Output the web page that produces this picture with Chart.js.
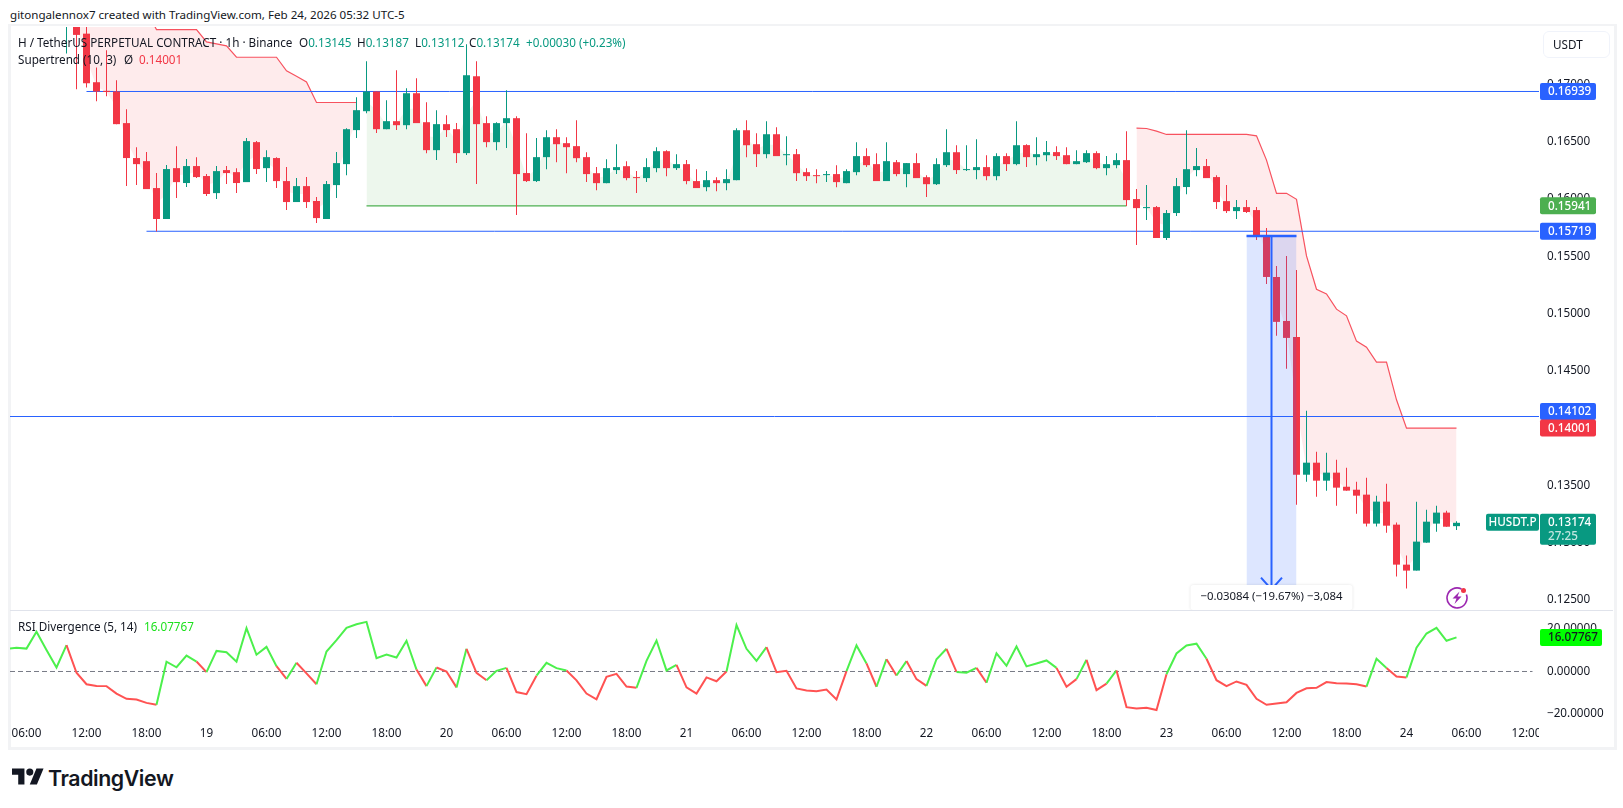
<!DOCTYPE html>
<html>
<head>
<meta charset="utf-8">
<title>HUSDT.P 1h</title>
<script src="https://cdn.jsdelivr.net/npm/chart.js@4/dist/chart.umd.min.js"></script>
<style>
  html, body { margin: 0; padding: 0; background: #fff; width: 1623px; height: 808px; overflow: hidden; }
  body { font-family: "Noto Sans", sans-serif; color: #131722; font-size: 11.7px; }
  #frame { position: absolute; left: 8px; top: 24px; width: 1603px; height: 721px; border: 2px solid #f2f3f5; border-bottom-width: 3px; border-right-width: 3px; border-left-width: 3px; }
  canvas { position: absolute; left: 10px; }
  #priceChart { top: 27px; }
  #rsiChart { top: 610px; }
  #sep { position: absolute; left: 10px; top: 610px; width: 1603px; height: 1px; background: #e0e3eb; }
  .t { position: absolute; white-space: nowrap; line-height: 16px; z-index: 3; }
  .teal { color: #089981; }
  #usdt { position: absolute; left: 1543px; top: 31px; width: 65px; height: 25px; border: 1px solid #f0f3fa; border-radius: 6px; line-height: 25px; text-indent: 9px; z-index: 3; }
  #bolt { position: absolute; left: 1445px; top: 586px; z-index: 3; }
  #logo { position: absolute; left: 12px; top: 765px; z-index: 3; }
  #logoText { position: absolute; left: 48px; top: 763px; font: 600 21.3px/30px Inter, sans-serif; color: #131722; letter-spacing: -0.4px; }
</style>
</head>
<body>
<div id="frame"></div>
<div class="t" style="left:10px;top:7px;font-size:11.6px">gitongalennox7 created with TradingView.com, Feb 24, 2026 05:32 UTC-5</div>
<canvas id="priceChart" width="1603" height="583"></canvas>
<canvas id="rsiChart" width="1603" height="137"></canvas>
<div id="sep"></div>
<div id="usdt">USDT</div>

<div class="t" style="left:18px;top:34px">H / TetherUS PERPETUAL CONTRACT · 1h · Binance</div>
<div class="t" style="left:299px;top:34px">O<span class="teal">0.13145</span></div>
<div class="t" style="left:357px;top:34px">H<span class="teal">0.13187</span></div>
<div class="t" style="left:415px;top:34px">L<span class="teal">0.13112</span></div>
<div class="t" style="left:469px;top:34px">C<span class="teal">0.13174</span></div>
<div class="t teal" style="left:526px;top:34px">+0.00030 (+0.23%)</div>
<div class="t" style="left:18px;top:51px">Supertrend (10, 3)</div>
<div class="t" style="left:124px;top:51px">Ø</div>
<div class="t" style="left:139px;top:51px;color:#f23645">0.14001</div>
<div class="t" style="left:18px;top:618px">RSI Divergence (5, 14)</div>
<div class="t" style="left:144px;top:618px;color:#1de01d">16.07767</div>

<svg id="bolt" width="26" height="24" viewBox="0 0 26 24">
  <path d="M16.5 3.0 A10 10 0 1 0 21.4 8.5" fill="none" stroke="#9c27b0" stroke-width="1.6"/>
  <path d="M14.5 5.5 L7.5 12.5 L11.5 12.5 L9.5 18 L16.5 10.5 L12.5 10.5 Z" fill="#9c27b0"/>
  <circle cx="18.5" cy="4.5" r="2.5" fill="#f23645"/>
</svg>

<svg id="logo" width="32" height="24" viewBox="0 0 36 27">
  <path d="M14 22H7V11H0V4h14v18zM28 22h-8l7.5-18h8L28 22z" fill="#131722"/>
  <circle cx="20" cy="8" r="4" fill="#131722"/>
</svg>
<div id="logoText">TradingView</div>

<script>
// hourly candles, first one is Feb 18 10:00 (hour 10 counted from Feb 18 00:00)
const firstCandleHour = 10;
const candleOpen = [
  0.17600, 0.17580, 0.17444, 0.17020, 0.16945, 0.16939, 0.16663, 0.16358, 0.16331, 0.16096,
  0.15826, 0.16270, 0.16140, 0.16288, 0.16201, 0.16052, 0.16253, 0.16235, 0.16148, 0.16497,
  0.16270, 0.16358, 0.16157, 0.15974, 0.16113, 0.15983, 0.15826, 0.16122, 0.16305, 0.16602,
  0.16767, 0.16939, 0.16610, 0.16680, 0.16645, 0.16924, 0.16671, 0.16427, 0.16654, 0.16610,
  0.16401, 0.17072, 0.16663, 0.16497, 0.16663, 0.16706, 0.16227, 0.16157, 0.16366, 0.16540,
  0.16488, 0.16462, 0.16366, 0.16226, 0.16139, 0.16253, 0.16287, 0.16191, 0.16183, 0.16270,
  0.16418, 0.16270, 0.16305, 0.16157, 0.16104, 0.16165, 0.16139, 0.16165, 0.16601, 0.16479,
  0.16392, 0.16566, 0.16383, 0.16392, 0.16235, 0.16209, 0.16209, 0.16218, 0.16139, 0.16235,
  0.16375, 0.16305, 0.16157, 0.16322, 0.16218, 0.16314, 0.16191, 0.16130, 0.16296, 0.16409,
  0.16253, 0.16253, 0.16279, 0.16200, 0.16375, 0.16305, 0.16471, 0.16366, 0.16383, 0.16410,
  0.16383, 0.16305, 0.16322, 0.16401, 0.16270, 0.16296, 0.16340, 0.16000, 0.15921, 0.15930,
  0.15660, 0.15878, 0.16105, 0.16253, 0.16288, 0.16192, 0.15982, 0.15895, 0.15930, 0.15904,
  0.15686, 0.15320, 0.14936, 0.14797, 0.13594, 0.13699, 0.13542, 0.13612, 0.13489, 0.13463,
  0.13420, 0.13167, 0.13359, 0.13158, 0.12809, 0.12757, 0.13001, 0.13167, 0.13263, 0.13145
];
const candleHigh = [
  0.17700, 0.17650, 0.17520, 0.17148, 0.17299, 0.17038, 0.16785, 0.16453, 0.16410, 0.16227,
  0.16297, 0.16462, 0.16349, 0.16366, 0.16218, 0.16288, 0.16288, 0.16270, 0.16532, 0.16506,
  0.16427, 0.16366, 0.16279, 0.16183, 0.16192, 0.16018, 0.16157, 0.16410, 0.16619, 0.16889,
  0.17203, 0.16939, 0.16863, 0.17125, 0.16968, 0.17055, 0.16846, 0.16776, 0.16732, 0.16663,
  0.17351, 0.17203, 0.16724, 0.16671, 0.16950, 0.16724, 0.16575, 0.16532, 0.16601, 0.16610,
  0.16540, 0.16688, 0.16409, 0.16279, 0.16348, 0.16479, 0.16331, 0.16244, 0.16357, 0.16453,
  0.16427, 0.16392, 0.16340, 0.16261, 0.16244, 0.16191, 0.16261, 0.16619, 0.16688, 0.16575,
  0.16680, 0.16627, 0.16549, 0.16436, 0.16270, 0.16261, 0.16244, 0.16296, 0.16261, 0.16497,
  0.16444, 0.16401, 0.16497, 0.16340, 0.16314, 0.16401, 0.16209, 0.16357, 0.16610, 0.16470,
  0.16470, 0.16523, 0.16383, 0.16401, 0.16401, 0.16680, 0.16479, 0.16540, 0.16506, 0.16462,
  0.16453, 0.16427, 0.16427, 0.16418, 0.16375, 0.16401, 0.16593, 0.16087, 0.16122, 0.15939,
  0.15904, 0.16183, 0.16601, 0.16445, 0.16349, 0.16209, 0.16122, 0.15991, 0.15991, 0.15930,
  0.15747, 0.15416, 0.15503, 0.15381, 0.14152, 0.13795, 0.13786, 0.13725, 0.13655, 0.13533,
  0.13568, 0.13411, 0.13516, 0.13176, 0.12888, 0.13359, 0.13289, 0.13324, 0.13280, 0.13187
];
const candleLow = [
  0.17270, 0.16959, 0.16974, 0.16854, 0.16898, 0.16654, 0.16113, 0.16122, 0.16087, 0.15718,
  0.15826, 0.16009, 0.16105, 0.16183, 0.16026, 0.16000, 0.16131, 0.16052, 0.16148, 0.16218,
  0.16148, 0.16096, 0.15904, 0.15974, 0.15922, 0.15791, 0.15826, 0.16009, 0.16209, 0.16532,
  0.16750, 0.16576, 0.16610, 0.16602, 0.16610, 0.16663, 0.16401, 0.16340, 0.16541, 0.16314,
  0.16384, 0.16131, 0.16453, 0.16427, 0.16445, 0.15861, 0.16148, 0.16148, 0.16261, 0.16322,
  0.16226, 0.16322, 0.16148, 0.16078, 0.16139, 0.16218, 0.16165, 0.16052, 0.16148, 0.16235,
  0.16200, 0.16253, 0.16130, 0.16096, 0.16069, 0.16069, 0.16078, 0.16165, 0.16366, 0.16279,
  0.16357, 0.16375, 0.16296, 0.16157, 0.16157, 0.16139, 0.16148, 0.16104, 0.16139, 0.16209,
  0.16279, 0.16157, 0.16157, 0.16200, 0.16104, 0.16183, 0.16017, 0.16122, 0.16279, 0.16218,
  0.16244, 0.16174, 0.16165, 0.16165, 0.16244, 0.16296, 0.16279, 0.16296, 0.16331, 0.16340,
  0.16305, 0.16305, 0.16314, 0.16261, 0.16209, 0.16270, 0.15939, 0.15599, 0.15817, 0.15660,
  0.15643, 0.15852, 0.16043, 0.16200, 0.16183, 0.15913, 0.15878, 0.15826, 0.15878, 0.15643,
  0.15259, 0.14806, 0.14518, 0.13332, 0.13533, 0.13402, 0.13455, 0.13324, 0.13455, 0.13254,
  0.13141, 0.13141, 0.13088, 0.12705, 0.12600, 0.12757, 0.13001, 0.13097, 0.13140, 0.13112
];
const candleClose = [
  0.17650, 0.17433, 0.17011, 0.16939, 0.16935, 0.16654, 0.16358, 0.16305, 0.16087, 0.15826,
  0.16262, 0.16148, 0.16288, 0.16192, 0.16044, 0.16244, 0.16227, 0.16140, 0.16506, 0.16262,
  0.16366, 0.16157, 0.15974, 0.16113, 0.15974, 0.15834, 0.16131, 0.16314, 0.16610, 0.16776,
  0.16939, 0.16610, 0.16680, 0.16645, 0.16924, 0.16663, 0.16427, 0.16654, 0.16602, 0.16401,
  0.17081, 0.16654, 0.16497, 0.16663, 0.16706, 0.16218, 0.16157, 0.16366, 0.16540, 0.16479,
  0.16453, 0.16357, 0.16218, 0.16139, 0.16270, 0.16279, 0.16183, 0.16183, 0.16279, 0.16418,
  0.16270, 0.16305, 0.16157, 0.16096, 0.16165, 0.16139, 0.16174, 0.16601, 0.16470, 0.16392,
  0.16566, 0.16375, 0.16392, 0.16226, 0.16200, 0.16200, 0.16218, 0.16148, 0.16244, 0.16375,
  0.16296, 0.16157, 0.16331, 0.16218, 0.16314, 0.16183, 0.16130, 0.16305, 0.16409, 0.16253,
  0.16261, 0.16279, 0.16200, 0.16375, 0.16305, 0.16470, 0.16366, 0.16392, 0.16410, 0.16375,
  0.16305, 0.16331, 0.16401, 0.16270, 0.16305, 0.16340, 0.15991, 0.15921, 0.15930, 0.15660,
  0.15878, 0.16113, 0.16261, 0.16288, 0.16183, 0.15974, 0.15895, 0.15930, 0.15887, 0.15677,
  0.15320, 0.14928, 0.14788, 0.13594, 0.13699, 0.13542, 0.13612, 0.13481, 0.13455, 0.13411,
  0.13167, 0.13359, 0.13149, 0.12809, 0.12757, 0.13010, 0.13184, 0.13263, 0.13140, 0.13174
];

// supertrend, one value per candle, null where the other side is active
const supertrendDown = [
  null, 0.17700, 0.17700, 0.17700, 0.17700, 0.17700, 0.17700, 0.17700, 0.17650, 0.17479,
  0.17479, 0.17479, 0.17479, 0.17479, 0.17372, 0.17354, 0.17337, 0.17238, 0.17238, 0.17238,
  0.17238, 0.17238, 0.17119, 0.17072, 0.17023, 0.16843, 0.16843, 0.16843, 0.16843, 0.16843,
  null, null, null, null, null, null, null, null, null, null,
  null, null, null, null, null, null, null, null, null, null,
  null, null, null, null, null, null, null, null, null, null,
  null, null, null, null, null, null, null, null, null, null,
  null, null, null, null, null, null, null, null, null, null,
  null, null, null, null, null, null, null, null, null, null,
  null, null, null, null, null, null, null, null, null, null,
  null, null, null, null, null, null, null, 0.16619, 0.16616, 0.16593,
  0.16564, 0.16564, 0.16564, 0.16564, 0.16564, 0.16564, 0.16564, 0.16564, 0.16564, 0.16552,
  0.16340, 0.16050, 0.16050, 0.15998, 0.15504, 0.15213, 0.15172, 0.15039, 0.14981, 0.14760,
  0.14707, 0.14577, 0.14577, 0.14248, 0.14001, 0.14001, 0.14001, 0.14001, 0.14001, 0.14001
];
const supertrendUp = [
  null, null, null, null, null, null, null, null, null, null,
  null, null, null, null, null, null, null, null, null, null,
  null, null, null, null, null, null, null, null, null, null,
  0.15941, 0.15941, 0.15941, 0.15941, 0.15941, 0.15941, 0.15941, 0.15941, 0.15941, 0.15941,
  0.15941, 0.15941, 0.15941, 0.15941, 0.15941, 0.15941, 0.15941, 0.15941, 0.15941, 0.15941,
  0.15941, 0.15941, 0.15941, 0.15941, 0.15941, 0.15941, 0.15941, 0.15941, 0.15941, 0.15941,
  0.15941, 0.15941, 0.15941, 0.15941, 0.15941, 0.15941, 0.15941, 0.15941, 0.15941, 0.15941,
  0.15941, 0.15941, 0.15941, 0.15941, 0.15941, 0.15941, 0.15941, 0.15941, 0.15941, 0.15941,
  0.15941, 0.15941, 0.15941, 0.15941, 0.15941, 0.15941, 0.15941, 0.15941, 0.15941, 0.15941,
  0.15941, 0.15941, 0.15941, 0.15941, 0.15941, 0.15941, 0.15941, 0.15941, 0.15941, 0.15941,
  0.15941, 0.15941, 0.15941, 0.15941, 0.15941, 0.15941, 0.15941, null, null, null,
  null, null, null, null, null, null, null, null, null, null,
  null, null, null, null, null, null, null, null, null, null,
  null, null, null, null, null, null, null, null, null, null
];

// rsi line starts a bit earlier than the candles
const firstRsiHour = 4;
const rsiValues = [
  10.7, 11.2, 10.8, 18.7, 10.1, 1.9, 12.4, -0.6, -6.0, -6.8,
  -6.9, -10.4, -12.9, -13.2, -14.8, -15.7, 4.6, 2.0, 7.5, 4.7,
  -0.3, 9.7, 9.1, 4.6, 20.4, 7.9, 11.6, 2.5, -3.5, 4.1,
  -0.9, -6.0, 9.4, 14.8, 20.6, 22.3, 23.4, 6.3, 8.0, 6.6,
  14.5, 0.9, -6.9, 1.9, 0.0, -7.5, 10.7, -0.6, -4.1, 0.3,
  1.7, -9.7, -10.7, -2.0, 4.1, 1.6, 0.5, -4.2, -10.4, -13.1,
  -2.5, -1.1, -7.1, -7.7, 5.0, 14.6, 0.5, 3.1, -7.5, -10.4,
  -2.8, -4.6, 0.0, 21.9, 10.7, 5.0, 11.5, -0.3, 0.3, -8.0,
  -9.0, -9.3, -8.5, -13.2, 0.2, 12.3, 3.8, -7.2, 5.8, -1.9,
  4.9, -3.6, -6.8, 5.8, 10.7, -0.2, -0.6, 1.7, -5.3, 8.6,
  2.7, 11.8, 2.4, 3.8, 5.2, 1.7, -7.2, -3.6, 5.5, -8.8,
  -5.7, 0.5, -16.8, -17.5, -17.1, -18.2, -1.3, 8.5, 12.3, 13.1,
  6.0, -4.1, -6.9, -4.7, -6.3, -12.9, -15.7, -15.1, -14.5, -10.1,
  -7.9, -7.7, -5.0, -5.5, -5.7, -6.0, -7.1, 6.0, 1.7, -2.4,
  -2.8, 11.2, 17.9, 20.6, 14.5, 16.08
];
// hour ranges where the rsi line is red, green everywhere else
const rsiRedRuns = [
  [10, 19], [23, 24], [31, 32], [33, 35], [45, 46], [47, 49], [50, 52], [54, 57],
  [60, 67], [71, 76], [80, 88], [90, 91], [92, 93], [94, 96], [98, 99], [101, 102],
  [109, 111], [112, 114], [115, 120], [124, 140], [142, 144]
];

const priceTicks = [0.125, 0.13, 0.135, 0.14, 0.145, 0.15, 0.155, 0.16, 0.165, 0.17];
const rsiTicks = [-20, 0, 20];
const timeTickHours = [6, 12, 18, 24, 30, 36, 42, 48, 54, 60, 66, 72, 78, 84, 90, 96, 102, 108, 114, 120, 126, 132, 138, 144, 150, 156];
const timeTickLabels = ['06:00', '12:00', '18:00', '19', '06:00', '12:00', '18:00', '20', '06:00', '12:00', '18:00', '21', '06:00', '12:00', '18:00', '22', '06:00', '12:00', '18:00', '23', '06:00', '12:00', '18:00', '24', '06:00', '12:00'];

// horizontal lines and where they start, in hours
const levelPrices = [0.16939, 0.15719, 0.14102];
const levelStartHours = [12, 18, 4.35];

// price range tool
const measureHours = [128, 133];
const measureTop = 0.15677;
const measureBottom = 0.12593;
const measureText = '−0.03084 (−19.67%) −3,084';

const lastRsi = 16.07767;

const TEAL = '#089981';
const RED = '#f23645';
const BLUE = '#2962ff';
const FONT = '"Noto Sans", sans-serif';

// shared x range so both panes line up, 10px per hour
const xMin = 4.35;
const xMax = 157.25;
const axisWidth = 74;

const candleHours = candleOpen.map((v, i) => firstCandleHour + i);
const rsiHours = rsiValues.map((v, i) => firstRsiHour + i);
const bodyMid = candleOpen.map((o, i) => (o + candleClose[i]) / 2);
const candleColors = candleOpen.map((o, i) => candleClose[i] >= o ? TEAL : RED);

function toPoints(hours, values) {
  return hours.map((h, i) => ({ x: h, y: values[i] }));
}

function lineSet(data, color, width, order, extra) {
  return Object.assign({
    type: 'line',
    data: data,
    borderColor: color,
    borderWidth: width,
    pointRadius: 0,
    tension: 0,
    fill: false,
    order: order
  }, extra || {});
}

function fixAxis(scale) {
  scale.width = axisWidth;
  scale.paddingTop = 0;
  scale.paddingBottom = 0;
}

function fixTimeAxis(scale) {
  scale.paddingLeft = 0;
  scale.paddingRight = 0;
}

// small coloured tag on the price axis
function drawTag(ctx, y, text, color, textColor, width, h) {
  ctx.fillStyle = color;
  ctx.beginPath();
  ctx.roundRect(1530, y - h / 2, width, h, 2);
  ctx.fill();
  ctx.fillStyle = textColor;
  ctx.font = '500 11.7px ' + FONT;
  ctx.textAlign = 'left';
  ctx.textBaseline = 'middle';
  ctx.fillText(text, 1538, y + 0.5);
}

const priceOverlay = {
  id: 'priceOverlay',
  afterDraw(chart) {
    const ctx = chart.ctx;
    const y = chart.scales.y;
    const x = chart.scales.x;
    ctx.save();

    // measure tool label
    const cx = x.getPixelForValue((measureHours[0] + measureHours[1]) / 2);
    ctx.shadowColor = 'rgba(0,0,0,0.12)';
    ctx.shadowBlur = 3;
    ctx.fillStyle = '#fff';
    ctx.beginPath();
    ctx.roundRect(cx - 81, 558, 162, 25, 3);
    ctx.fill();
    ctx.shadowBlur = 0;
    ctx.fillStyle = '#131722';
    ctx.font = '11.4px ' + FONT;
    ctx.textAlign = 'center';
    ctx.textBaseline = 'middle';
    ctx.fillText(measureText, cx, 570);

    drawTag(ctx, y.getPixelForValue(levelPrices[0]), '0.16939', BLUE, '#fff', 56, 17);
    drawTag(ctx, y.getPixelForValue(0.15941), '0.15941', '#4caf50', '#fff', 56, 17);
    drawTag(ctx, y.getPixelForValue(levelPrices[1]), '0.15719', BLUE, '#fff', 56, 17);
    drawTag(ctx, y.getPixelForValue(levelPrices[2]) - 5, '0.14102', BLUE, '#fff', 56, 17);
    drawTag(ctx, y.getPixelForValue(0.14001), '0.14001', RED, '#fff', 56, 17);

    // last price with countdown and symbol tag
    const lastY = y.getPixelForValue(candleClose[candleClose.length - 1]);
    ctx.fillStyle = TEAL;
    ctx.beginPath();
    ctx.roundRect(1530, lastY - 9, 56, 31, 2);
    ctx.fill();
    ctx.beginPath();
    ctx.roundRect(1476, lastY - 9, 53, 17, 2);
    ctx.fill();
    ctx.font = '500 11.7px ' + FONT;
    ctx.fillStyle = '#fff';
    ctx.textAlign = 'left';
    ctx.fillText('0.13174', 1538, lastY);
    ctx.fillStyle = 'rgba(255,255,255,0.75)';
    ctx.fillText('27:25', 1538, lastY + 14);
    ctx.fillStyle = '#fff';
    ctx.textAlign = 'center';
    ctx.fillText('HUSDT.P', 1502.5, lastY);
    ctx.restore();
  }
};

const rsiOverlay = {
  id: 'rsiOverlay',
  afterDraw(chart) {
    const ctx = chart.ctx;
    ctx.save();
    // time labels stop at the edge of the plot
    ctx.fillStyle = '#fff';
    ctx.fillRect(chart.chartArea.right, chart.chartArea.bottom, 12, 25);
    drawTag(ctx, chart.scales.y.getPixelForValue(lastRsi), lastRsi.toFixed(5), '#00ff00', '#131722', 62, 17);
    ctx.restore();
  }
};

function baseOptions() {
  return {
    responsive: false,
    animation: false,
    events: [],
    layout: { padding: 0 },
    plugins: { legend: { display: false }, tooltip: { enabled: false } }
  };
}

document.addEventListener('DOMContentLoaded', () => {
  Chart.defaults.font.family = FONT;
  Chart.defaults.font.size = 11.7;
  Chart.defaults.color = '#131722';

  const levelSets = levelPrices.map((p, i) => lineSet(
    [{ x: levelStartHours[i], y: p }, { x: xMax, y: p }], BLUE, 1, 6));

  new Chart(document.getElementById('priceChart'), {
    type: 'bar',
    data: {
      datasets: [
        lineSet(toPoints(candleHours, supertrendDown), '#f7525f', 1.2, 10,
          { fill: { target: 2 }, backgroundColor: 'rgba(242,54,69,0.1)' }),
        lineSet(toPoints(candleHours, supertrendUp), '#4caf50', 1.2, 10,
          { fill: { target: 2 }, backgroundColor: 'rgba(76,175,80,0.1)' }),
        lineSet(toPoints(candleHours, bodyMid), 'transparent', 0, 11),
        // measure box
        lineSet(toPoints(measureHours, [measureTop, measureTop]), BLUE, 2.5, 0,
          { fill: { target: 4 }, backgroundColor: 'rgba(41,98,255,0.16)' }),
        lineSet(toPoints(measureHours, [measureBottom, measureBottom]), 'transparent', 0, 9),
        lineSet(toPoints([130.5, 130.5], [measureTop, measureBottom]), BLUE, 2, 0),
        lineSet(toPoints([129.45, 130.5, 131.55], [0.12696, measureBottom, 0.12696]), BLUE, 2, 0),
        ...levelSets,
        {
          data: toPoints(candleHours, candleLow.map((l, i) => [l, candleHigh[i]])),
          backgroundColor: candleColors,
          barThickness: 1,
          grouped: false,
          inflateAmount: 0,
          order: 2
        },
        {
          data: toPoints(candleHours, candleOpen.map((o, i) => [o, candleClose[i]])),
          backgroundColor: candleColors,
          barThickness: 7,
          grouped: false,
          inflateAmount: 0,
          minBarLength: 1,
          order: 1
        }
      ]
    },
    options: Object.assign(baseOptions(), {
      scales: {
        x: {
          type: 'linear',
          min: xMin,
          max: xMax,
          offset: false,
          display: false,
          afterFit: fixTimeAxis
        },
        y: {
          position: 'right',
          min: 0.12413,
          max: 0.17502,
          grid: { display: false, drawTicks: false },
          border: { display: false },
          ticks: { padding: 8, callback: v => v.toFixed(5) },
          afterBuildTicks: scale => { scale.ticks = priceTicks.map(value => ({ value })); },
          afterFit: fixAxis
        }
      }
    }),
    plugins: [priceOverlay]
  });

  new Chart(document.getElementById('rsiChart'), {
    type: 'line',
    data: {
      datasets: [
        lineSet([{ x: xMin, y: 0 }, { x: 156.6, y: 0 }], '#787b86', 1, 5, { borderDash: [5, 3] }),
        lineSet(toPoints(rsiHours, rsiValues), '#4cf04c', 2, 1, {
          segment: {
            borderColor: ctx => rsiRedRuns.some(r => ctx.p0.parsed.x >= r[0] && ctx.p0.parsed.x < r[1]) ? '#ff5252' : '#4cf04c'
          }
        })
      ]
    },
    options: Object.assign(baseOptions(), {
      scales: {
        x: {
          type: 'linear',
          min: xMin,
          max: xMax,
          grid: { display: false, drawTicks: false },
          border: { display: false },
          ticks: {
            padding: 5,
            autoSkip: false,
            maxRotation: 0,
            callback: (v, i) => timeTickLabels[i]
          },
          afterBuildTicks: scale => { scale.ticks = timeTickHours.map(value => ({ value })); },
          afterFit: scale => { fixTimeAxis(scale); scale.height = 25; }
        },
        y: {
          position: 'right',
          min: -23.82,
          max: 29,
          grid: { display: false, drawTicks: false },
          border: { display: false },
          ticks: { padding: 8, callback: v => v.toFixed(5).replace('-', '−') },
          afterBuildTicks: scale => { scale.ticks = rsiTicks.map(value => ({ value })); },
          afterFit: fixAxis
        }
      }
    }),
    plugins: [rsiOverlay]
  });
});
</script>
</body>
</html>
